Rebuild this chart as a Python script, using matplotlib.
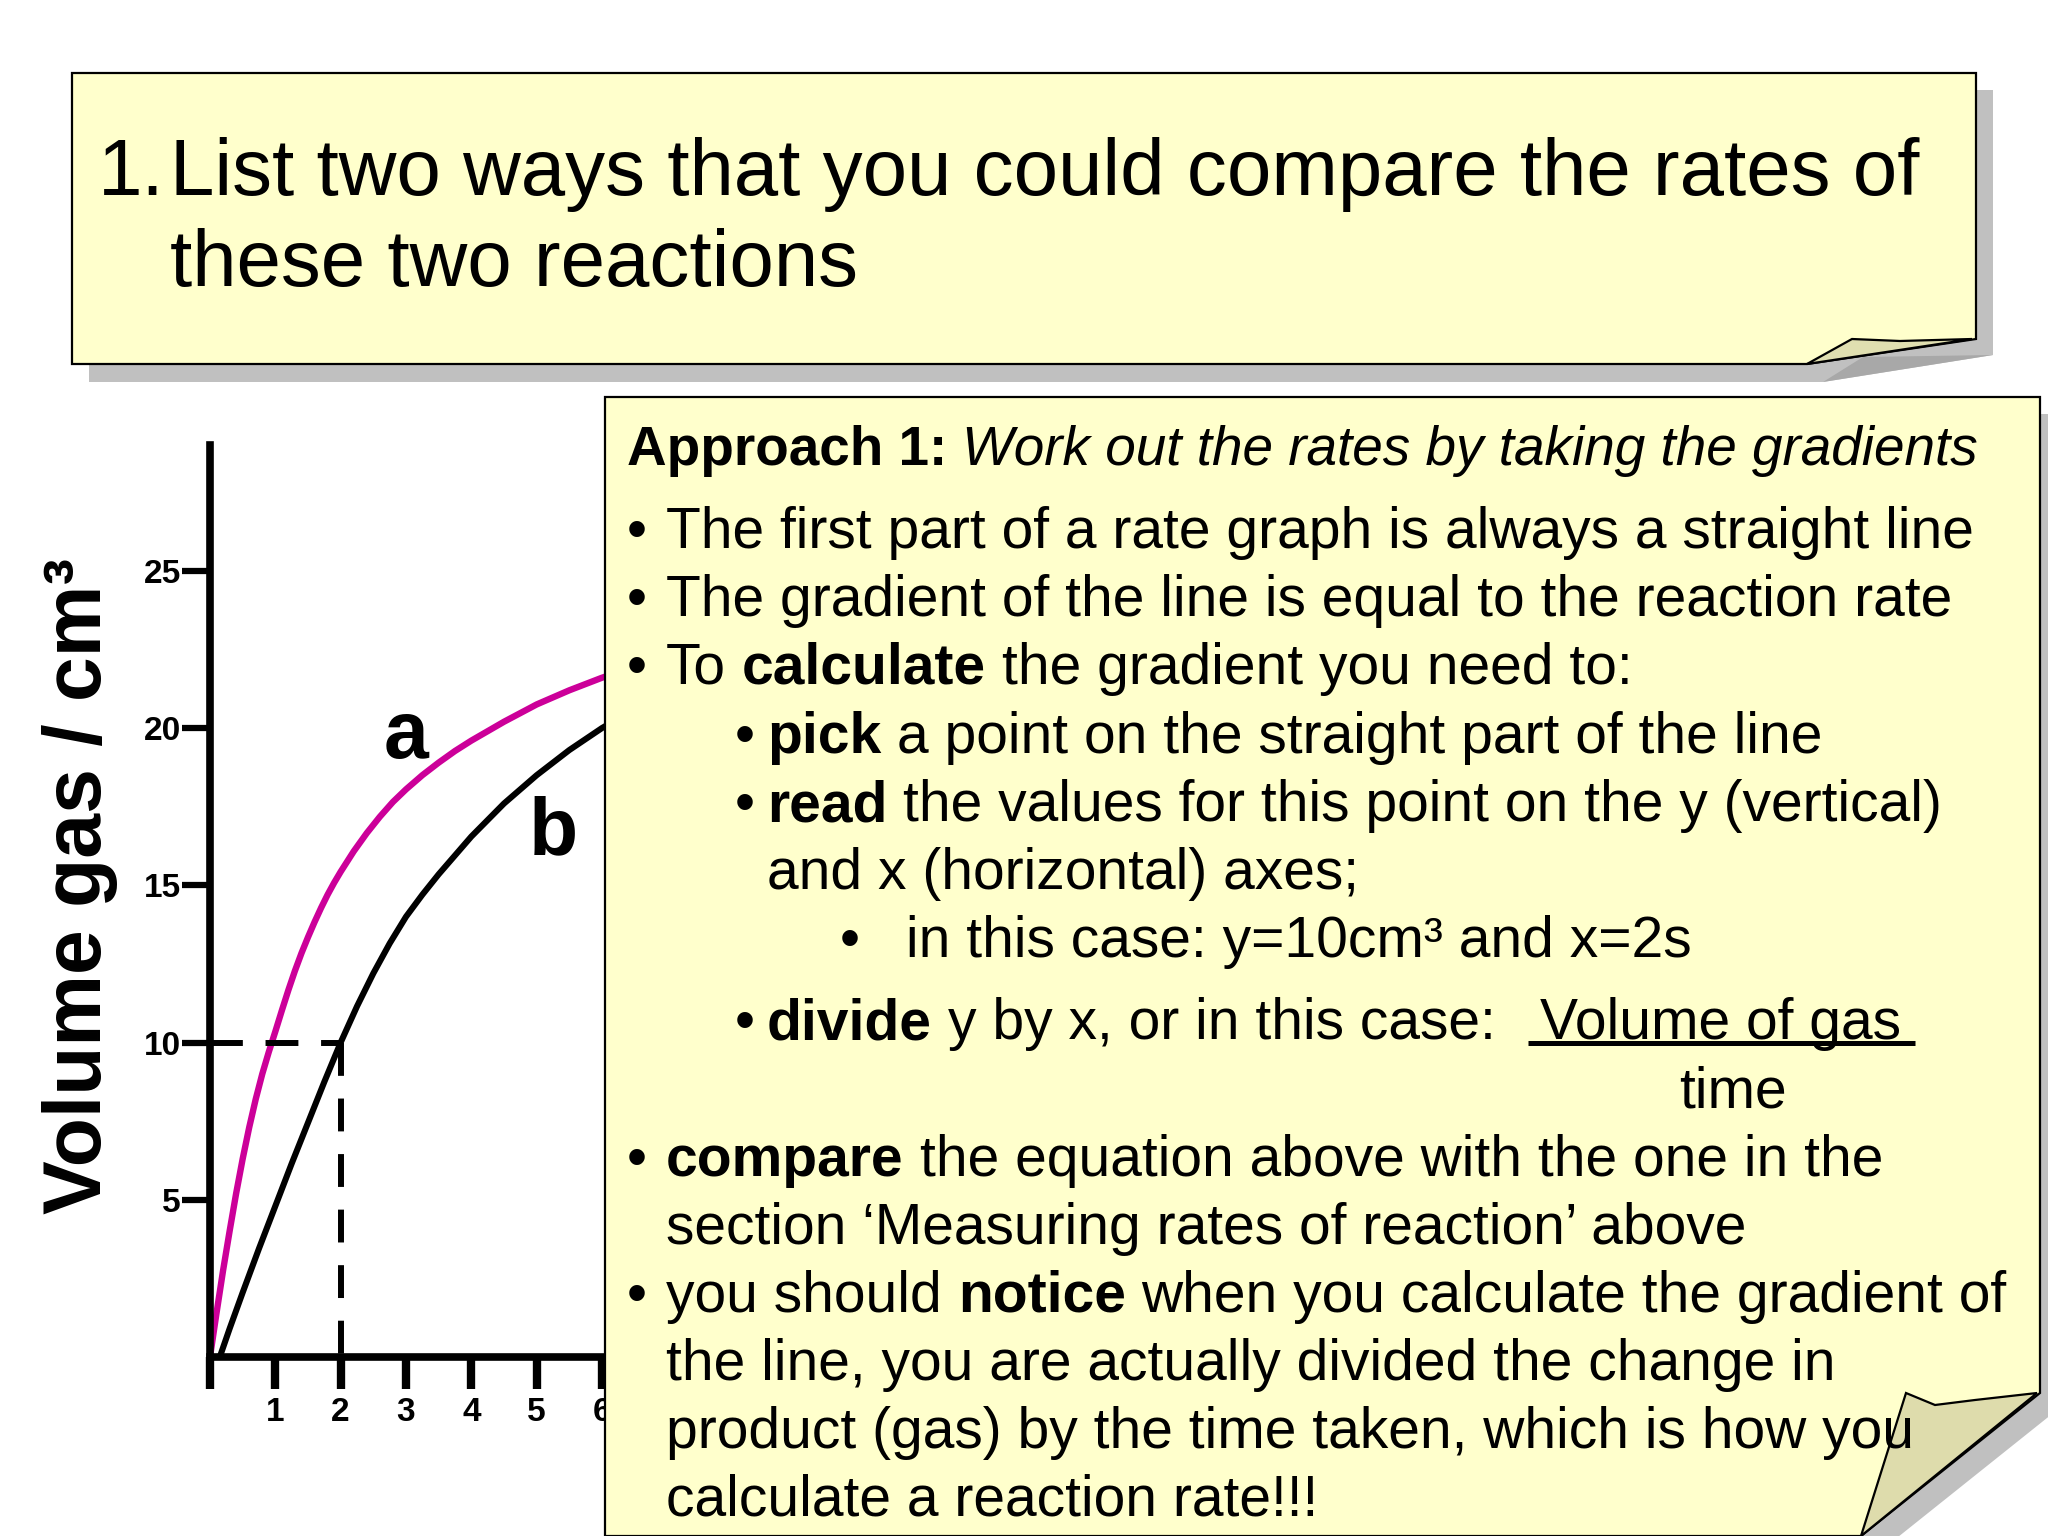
import matplotlib
matplotlib.use("Agg")
import matplotlib.pyplot as plt
from matplotlib.patches import Polygon
from matplotlib.lines import Line2D

plt.rcParams['font.family'] = ['Liberation Sans', 'DejaVu Sans']

# reaction a (magenta) and b (black): time / s and volume gas / cm3
time_a = [0, 0.1, 0.2, 0.3, 0.4, 0.5, 0.6, 0.7, 0.8, 0.9, 1.0, 1.1, 1.2, 1.3, 1.4,
          1.5, 1.6, 1.7, 1.8, 1.9, 2.0, 2.2, 2.4, 2.6, 2.8, 3.0, 3.25, 3.5, 3.75,
          4.0, 4.5, 5.0, 5.5, 6.0, 6.5, 7.0, 7.5, 8.0]
vol_a = [0, 1.4, 2.75, 4.0, 5.2, 6.3, 7.3, 8.2, 9.0, 9.7, 10.35, 11.02, 11.67, 12.28, 12.84,
         13.35, 13.83, 14.28, 14.7, 15.08, 15.43, 16.08, 16.66, 17.18, 17.65, 18.05, 18.5, 18.9, 19.27,
         19.6, 20.2, 20.75, 21.2, 21.6, 21.95, 22.25, 22.5, 22.7]
time_b = [0.15, 0.3, 0.5, 0.75, 1.0, 1.25, 1.5, 1.75, 2.0, 2.25, 2.5, 2.75, 3.0, 3.25,
          3.5, 3.75, 4.0, 4.5, 5.0, 5.5, 6.0, 6.5, 7.0, 7.5, 8.0]
vol_b = [0, 0.9, 2.05, 3.45, 4.8, 6.15, 7.45, 8.75, 10.0, 11.15, 12.2, 13.15, 14.0, 14.7,
         15.35, 15.95, 16.55, 17.6, 18.5, 19.3, 20.0, 20.6, 21.15, 21.6, 22.0]
y_ticks = [5, 10, 15, 20, 25]
x_ticks = [0, 1, 2, 3, 4, 5, 6, 7]
x_labels = ['', '1', '2', '3', '4', '5', '6', '']
point_x, point_y = 2, 10

title_num = "1."
title_lines = ["List two ways that you could compare the rates of", "these two reactions"]

W, H = 2048, 1536
fig = plt.figure(figsize=(20.48, 15.36), dpi=100)
fig.patch.set_facecolor('white')
r = fig.canvas.get_renderer()


def fx(x):
    return x / W


def fy(y):
    return 1 - y / H


def poly(pts, fc, ec='none', lw=0, z=2):
    p = Polygon([(fx(a), fy(b)) for a, b in pts], closed=True, facecolor=fc,
                edgecolor=ec, linewidth=lw, transform=fig.transFigure, zorder=z)
    fig.add_artist(p)


def line(pts, lw=2, color='black', z=4):
    fig.add_artist(Line2D([fx(a) for a, b in pts], [fy(b) for a, b in pts], lw=lw,
                          color=color, transform=fig.transFigure, zorder=z,
                          solid_capstyle='butt'))


def runs(x, y, parts, size=41):
    # parts are joined by single spaces
    for s, w, st in parts:
        t = fig.text(fx(x), fy(y), s, fontsize=size, fontweight=w, fontstyle=st,
                     va='baseline', ha='left', zorder=6)
        bb = t.get_window_extent(renderer=r)
        sp = fig.text(0, 0, "a a", fontsize=size, fontweight=w, fontstyle=st)
        sp2 = fig.text(0, 0, "aa", fontsize=size, fontweight=w, fontstyle=st)
        gap = sp.get_window_extent(renderer=r).width - sp2.get_window_extent(renderer=r).width
        sp.remove()
        sp2.remove()
        x += bb.width + gap


# ---- graph ----
ax = fig.add_axes([210 / W, (H - 1357) / H, 490 / W, 912 / H])
ax.set_xlim(0, 7.5)
ax.set_ylim(0, 29)
ax.patch.set_alpha(0)
ax.plot(time_a, vol_a, color='#CC0099', lw=4.6, solid_capstyle='round', solid_joinstyle='round')
ax.plot(time_b, vol_b, color='black', lw=4.4, solid_capstyle='round', solid_joinstyle='round')
ax.plot([0, point_x], [point_y, point_y], color='black', lw=4.3, linestyle=(0, (5.5, 3.8)))
ax.plot([point_x, point_x], [point_y, 0], color='black', lw=4.3, linestyle=(0, (5.5, 3.8)))
for s in ['top', 'right']:
    ax.spines[s].set_visible(False)
for s in ['left', 'bottom']:
    ax.spines[s].set_linewidth(5.5)
ax.set_yticks(y_ticks)
ax.set_yticklabels([str(v) for v in y_ticks])
ax.set_xticks(x_ticks)
ax.set_xticklabels(x_labels)
ax.tick_params(axis='y', length=20, width=4.5, pad=1, labelsize=24)
ax.tick_params(axis='x', length=23, width=6, pad=6, labelsize=24)
for lab in ax.get_xticklabels() + ax.get_yticklabels():
    lab.set_fontweight('bold')
ax.text(3.0, 19.7, "a", fontsize=58, fontweight='bold', ha='center', va='center')
ax.text(5.25, 16.65, "b", fontsize=58, fontweight='bold', ha='center', va='center')
fig.text(fx(80), fy(886), "Volume gas / cm³", rotation=90, fontsize=58,
         fontweight='bold', ha='center', va='center')

# ---- top note box ----
poly([(89, 90), (1993, 90), (1993, 355), (1823, 382), (89, 382)], '#C0C0C0', z=1)
poly([(1823, 382), (1863, 357), (1993, 355)], '#A8A8A8', z=1)
poly([(72, 73), (1976, 73), (1976, 339), (1807, 364), (72, 364)], '#FFFFCC',
     ec='black', lw=1.6, z=2)
poly([(1807, 364), (1852, 339), (1900, 341), (1972, 339)], '#E0DFB0', ec='black', lw=1.6, z=3)
fig.text(fx(98), fy(195), title_num, fontsize=57.5, va='baseline', ha='left', zorder=6)
fig.text(fx(170), fy(195), title_lines[0], fontsize=57.5, va='baseline', ha='left', zorder=6)
fig.text(fx(170), fy(286), title_lines[1], fontsize=57.5, va='baseline', ha='left', zorder=6)

# ---- right note box ----
poly([(622, 414), (2057, 414), (2057, 1410), (1878, 1553), (622, 1553)], '#C0C0C0', z=4)
poly([(605, 397), (2040, 397), (2040, 1393), (1861, 1536), (605, 1536)], '#FFFFCC',
     ec='black', lw=1.6, z=5)
poly([(1906, 1393), (1935, 1405), (1975, 1400), (2037, 1393), (1861, 1536)], '#DEDCAC',
     ec='black', lw=1.6, z=5)

N, B, I = 'normal', 'bold', 'italic'
runs(627, 465, [("Approach 1:", B, N), ("Work out the rates by taking the gradients", N, I)],
     size=39.5)
bul1, txt1 = 627, 666
bul2, txt2 = 735, 767
body = [
    (548, bul1, txt1, [("The first part of a rate graph is always a straight line", N, N)]),
    (616, bul1, txt1, [("The gradient of the line is equal to the reaction rate", N, N)]),
    (684, bul1, txt1, [("To", N, N), ("calculate", B, N), ("the gradient you need to:", N, N)]),
    (753, bul2, txt2, [("pick", B, N), ("a point on the straight part of the line", N, N)]),
    (821, bul2, txt2, [("read", B, N), ("the values for this point on the y (vertical)", N, N)]),
    (889, None, txt2, [("and x (horizontal) axes;", N, N)]),
    (957, 840, 906, [("in this case: y=10cm³ and x=2s", N, N)]),
    (1039, bul2, txt2, [("divide", B, N), ("y by x, or in this case:", N, N)]),
    (1176, bul1, txt1, [("compare", B, N), ("the equation above with the one in the", N, N)]),
    (1244, None, txt1, [("section \u2018Measuring rates of reaction\u2019 above", N, N)]),
    (1312, bul1, txt1, [("you should", N, N), ("notice", B, N), ("when you calculate the gradient of", N, N)]),
    (1380, None, txt1, [("the line, you are actually divided the change in", N, N)]),
    (1448, None, txt1, [("product (gas) by the time taken, which is how you", N, N)]),
    (1516, None, txt1, [("calculate a reaction rate!!!", N, N)]),
]
for yb, bx, tx, parts in body:
    if bx is not None:
        fig.text(fx(bx), fy(yb), "\u2022", fontsize=41, va='baseline', ha='left', zorder=6)
    runs(tx, yb, parts)

fig.text(fx(1721), fy(1039), "Volume of gas", fontsize=41, va='baseline', ha='center', zorder=6)
line([(1528, 1043), (1915, 1043)], lw=3.6, z=6)
fig.text(fx(1733), fy(1107), "time", fontsize=41, va='baseline', ha='center', zorder=6)

fig.savefig("out.png", dpi=100)
